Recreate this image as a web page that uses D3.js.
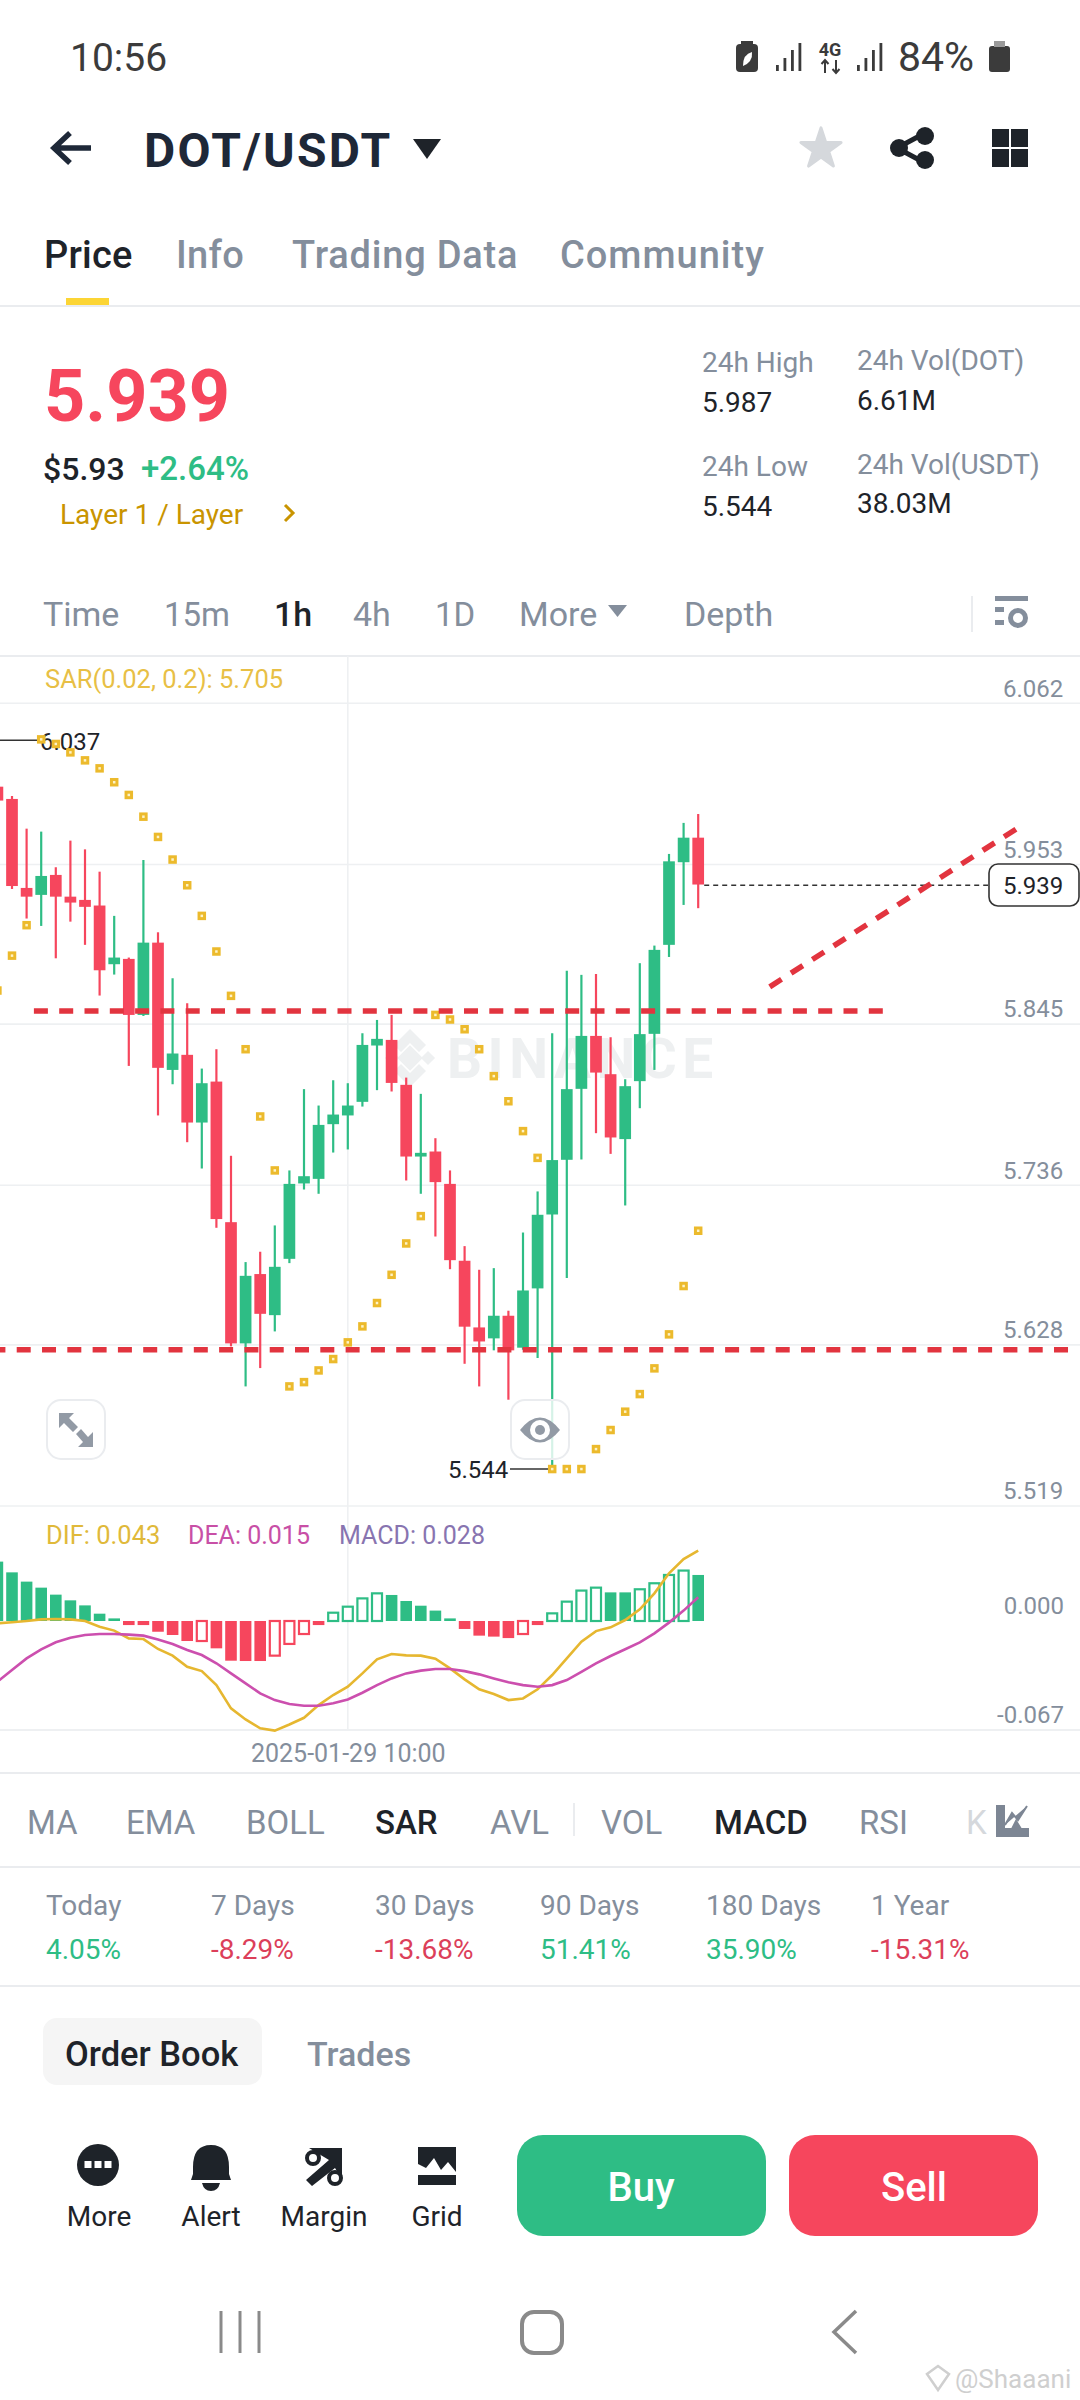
<!DOCTYPE html>
<html>
<head>
<meta charset="utf-8">
<title>DOT/USDT</title>
<script src="https://cdnjs.cloudflare.com/ajax/libs/d3/7.8.5/d3.min.js"></script>
<style>
  html, body { margin: 0; padding: 0; background: #fff; }
  svg { display: block; font-family: Roboto, "Noto Sans", sans-serif; }
</style>
</head>
<body>
<svg id="chart" width="1080" height="2400" viewBox="0 0 1080 2400"></svg>
<script>
// 1h candles, oldest first (the first one is cut by the left edge)
var candleOpen = [6.0056,5.9973,5.9371,5.9324,5.9459,5.9312,5.9290,5.9252,5.8855,5.8891,5.8512,5.9001,5.8140,5.8242,5.7784,5.8061,5.7110,5.6290,5.6759,5.6481,5.6862,5.7372,5.7403,5.7773,5.7832,5.7924,5.8305,5.8343,5.8039,5.7554,5.7588,5.7369,5.6849,5.6398,5.6324,5.6477,5.6261,5.6662,5.7162,5.7532,5.8012,5.8370,5.8111,5.7672,5.8064,5.8384,5.8986,5.9545,5.9711];
var candleClose = [5.9962,5.9384,5.9312,5.9452,5.9312,5.9272,5.9243,5.8814,5.8900,5.8512,5.9001,5.8154,5.8251,5.7784,5.8050,5.7131,5.6290,5.6747,5.6490,5.6808,5.7369,5.7421,5.7768,5.7838,5.7899,5.8309,5.8350,5.8052,5.7554,5.7579,5.7381,5.6853,5.6403,5.6303,5.6477,5.6243,5.6648,5.7160,5.7530,5.8010,5.8370,5.8122,5.7683,5.8030,5.8382,5.8952,5.9551,5.9711,5.9394];
var candleHigh = [6.0060,5.9993,5.9772,5.9752,5.9511,5.9691,5.9632,5.9481,5.9182,5.8900,5.9560,5.9071,5.8760,5.8591,5.8149,5.8280,5.7559,5.6840,5.6910,5.7088,5.7460,5.8010,5.7899,5.8070,5.8050,5.8388,5.8478,5.8512,5.8088,5.7978,5.7678,5.7460,5.6948,5.6788,5.6799,5.6511,5.7040,5.7318,5.8388,5.8810,5.8783,5.8789,5.8361,5.8077,5.8862,5.8981,5.9601,5.9811,5.9871];
var candleLow = [5.9955,5.9364,5.9164,5.9114,5.8895,5.9143,5.8986,5.8643,5.8785,5.8167,5.8505,5.7832,5.8043,5.7651,5.7473,5.7072,5.6270,5.5999,5.6123,5.6371,5.6833,5.7331,5.7302,5.7581,5.7602,5.7892,5.8003,5.7994,5.7392,5.7302,5.7013,5.6792,5.6152,5.5999,5.6243,5.5909,5.6247,5.6191,5.5440,5.6732,5.7534,5.7712,5.7572,5.7223,5.7881,5.8140,5.8904,5.9256,5.9234];
var sarValues = [5.8677,5.8913,5.9119,6.0376,6.0345,6.0288,6.0234,6.0180,6.0086,6.0000,5.9853,5.9716,5.9563,5.9389,5.9182,5.8941,5.8641,5.8280,5.7825,5.7460,5.5999,5.6028,5.6107,5.6184,5.6297,5.6405,5.6563,5.6754,5.6966,5.7151,5.8512,5.8481,5.8415,5.8280,5.8098,5.7928,5.7726,5.7545,5.5440,5.5440,5.5440,5.5575,5.5704,5.5828,5.5947,5.6121,5.6351,5.6678,5.7052];

var macdValues = [.0365,.0299,.0242,.0205,.0162,.0127,.0096,.0045,.0016,-.0025,-.0025,-.0066,-.0086,-.0123,-.0123,-.0168,-.0244,-.0246,-.0246,-.0213,-.0141,-.0080,-.0025,.0051,.0088,.0139,.0170,.0160,.0123,.0094,.0064,.0016,-.0049,-.0090,-.0096,-.0105,-.0080,-.0025,.0047,.0119,.0187,.0205,.0176,.0176,.0195,.0232,.0283,.0310,.0283];
var macdHollow = [0,0,0,0,0,0,0,0,0,0,0,0,0,0,1,0,0,0,0,1,1,1,0,1,1,1,1,0,0,0,0,0,0,0,0,0,1,0,1,1,1,1,0,0,1,1,1,1,0];
var difValues = [-.0014,-.0008,0,.0010,.0012,.0010,0,-.0035,-.0059,-.0107,-.0111,-.0172,-.0213,-.0281,-.0308,-.0394,-.0537,-.0605,-.0660,-.0674,-.0636,-.0595,-.0517,-.0455,-.0404,-.0322,-.0236,-.0203,-.0211,-.0213,-.0232,-.0291,-.0359,-.0420,-.0449,-.0486,-.0476,-.0420,-.0332,-.0230,-.0127,-.0062,-.0039,.0006,.0072,.0170,.0293,.0381,.0433];
var deaValues = [-.0373,-.0301,-.0230,-.0174,-.0131,-.0103,-.0086,-.0080,-.0080,-.0084,-.0090,-.0113,-.0141,-.0178,-.0209,-.0260,-.0322,-.0383,-.0445,-.0486,-.0510,-.0521,-.0521,-.0506,-.0482,-.0441,-.0394,-.0353,-.0322,-.0305,-.0295,-.0295,-.0308,-.0328,-.0353,-.0377,-.0394,-.0404,-.0394,-.0363,-.0312,-.0260,-.0215,-.0174,-.0131,-.0076,-.0010,.0064,.0146];

var priceTicks = [6.062, 5.953, 5.845, 5.736, 5.628, 5.519];
var macdTicks = [0, -0.067];
var timeTickIndex = [24];
var timeTickLabels = ["2025-01-29 10:00"];

// hand drawn lines on the screenshot, [candle index, price]
var resistanceLine = [[2.5, 5.8539], [60.7, 5.8539]];
var supportLine = [[-0.41, 5.6247], [74, 5.6247]];
var trendLine = [[52.9, 5.8702], [69.9, 5.9777]];

var lastPrice = 5.939;
var highMark = {index: 3, price: 6.037, label: "6.037"};
var lowMark = {index: 38, price: 5.544, label: "5.544"};

var GREEN = "#2ebd85", RED = "#f6465d", DARK = "#1e2329", GREY = "#848e9c", LINE = "#eaecef";

var svg = d3.select("#chart");
svg.append("rect").attr("width", 1080).attr("height", 2400).attr("fill", "#fff");

var x = d3.scaleLinear().domain([0, 48]).range([-2.6, 698.2]);
var yPrice = d3.scaleLinear().domain([5.519, 6.062]).range([1506, 703.3]);
var yMacd = d3.scaleLinear().domain([-0.067, 0]).range([1730, 1621]);
var indexes = d3.range(candleOpen.length);

function label(txt, px, py, size, color, weight, anchor) {
    return svg.append("text").attr("x", px).attr("y", py)
        .attr("font-size", size).attr("fill", color)
        .attr("font-weight", weight || 400)
        .attr("text-anchor", anchor || "start")
        .text(txt);
}
function hline(py, color, x1, x2) {
    svg.append("line").attr("x1", x1 || 0).attr("x2", x2 || 1080)
        .attr("y1", py).attr("y2", py).attr("stroke", color || LINE).attr("stroke-width", 2);
}

// ---- header ----
label("10:56", 70, 71, 39, "#3b3b3b");
label("84%", 898, 71, 41, "#3b3b3b");
// battery saver, signal bars, 4G
svg.append("rect").attr("x", 736).attr("y", 44).attr("width", 22).attr("height", 28).attr("rx", 4).attr("fill", "#3b3b3b");
svg.append("rect").attr("x", 741).attr("y", 41).attr("width", 12).attr("height", 4).attr("fill", "#3b3b3b");
svg.append("path").attr("d", "M743 66 q0 -12 9 -14 q1 10 -9 14").attr("fill", "#fff");
function signal(x0) {
    [6, 13, 21, 28].forEach(function(h, i) {
        svg.append("rect").attr("x", x0 + i * 7.5).attr("y", 71 - h).attr("width", 2.8).attr("height", h).attr("fill", "#3b3b3b");
    });
}
signal(776);
signal(857);
label("4G", 830, 56, 18, "#3b3b3b", 700, "middle");
svg.append("path").attr("d", "M825 73 v-13 m-3.5 4 l3.5 -4 l3.5 4 M836 60 v13 m-3.5 -4 l3.5 4 l3.5 -4")
    .attr("stroke", "#3b3b3b").attr("stroke-width", 2).attr("fill", "none");
svg.append("rect").attr("x", 989).attr("y", 46).attr("width", 21).attr("height", 26).attr("rx", 3).attr("fill", "#3b3b3b");
svg.append("rect").attr("x", 994).attr("y", 41).attr("width", 11).attr("height", 6).attr("fill", "#9a9a9a");

svg.append("path").attr("d", "M91 148 H55 M70 133 L54 148 L70 163").attr("stroke", "#1e2838").attr("stroke-width", 5.5).attr("fill", "none");
label("DOT/USDT", 144, 167, 48, "#1e2838", 700).attr("letter-spacing", 2.2);
svg.append("path").attr("d", "M413 139 H441 L427 159 Z").attr("fill", DARK);
svg.append("path").attr("d", d3.symbol().type(d3.symbolStar).size(500)()).attr("transform", "translate(821,149)").attr("fill", "#d5d8dc").attr("stroke", "#d5d8dc").attr("stroke-width", 3).attr("stroke-linejoin", "round");
svg.append("path").attr("d", "M925 133 L897 148 L925 163").attr("stroke", DARK).attr("stroke-width", 5).attr("fill", "none");
[[925, 136], [899, 148], [925, 160]].forEach(function(p) {
    svg.append("circle").attr("cx", p[0]).attr("cy", p[1]).attr("r", 9).attr("fill", DARK);
});
[[992, 129], [1011, 129], [992, 149], [1011, 149]].forEach(function(p) {
    svg.append("rect").attr("x", p[0]).attr("y", p[1]).attr("width", 17).attr("height", 18).attr("fill", DARK);
});

label("Price", 44, 268, 38, DARK, 500).attr("letter-spacing", 0.2);
label("Info", 176, 268, 38, GREY, 500).attr("letter-spacing", 0.3);
label("Trading Data", 292, 268, 38, GREY, 500).attr("letter-spacing", 0.8);
label("Community", 560, 268, 38, GREY, 500).attr("letter-spacing", 1);
svg.append("rect").attr("x", 66).attr("y", 298).attr("width", 43).attr("height", 8).attr("fill", "#fcd535");
hline(306);

label("5.939", 44, 421, 72, RED, 700);
label("$5.93", 43, 480, 32, DARK, 500);
label("+2.64%", 141, 480, 33, GREEN, 500);
label("Layer 1 / Layer", 60, 524, 28, "#c99400");
svg.append("path").attr("d", "M285 505 L293 513 L285 521").attr("stroke", "#c99400").attr("stroke-width", 3).attr("fill", "none");

label("24h High", 702, 372, 28, GREY);
label("5.987", 702, 412, 28, DARK);
label("24h Vol(DOT)", 857, 370, 28, GREY);
label("6.61M", 857, 410, 28, DARK);
label("24h Low", 702, 476, 28, GREY);
label("5.544", 702, 516, 28, DARK);
label("24h Vol(USDT)", 857, 474, 28, GREY);
label("38.03M", 857, 513, 28, DARK);

label("Time", 43, 626, 34, GREY);
label("15m", 164, 626, 33, GREY);
label("1h", 274, 626, 34, DARK, 500);
label("4h", 353, 626, 34, GREY);
label("1D", 435, 626, 33, GREY);
label("More", 519, 626, 34, GREY);
svg.append("path").attr("d", "M608 605 H627 L617.5 617 Z").attr("fill", GREY);
label("Depth", 684, 626, 34, GREY);
svg.append("line").attr("x1", 972).attr("x2", 972).attr("y1", 596).attr("y2", 632).attr("stroke", LINE).attr("stroke-width", 2);
svg.append("rect").attr("x", 995).attr("y", 596).attr("width", 33).attr("height", 5).attr("fill", GREY);
svg.append("rect").attr("x", 995).attr("y", 607).attr("width", 9).attr("height", 5).attr("fill", GREY);
svg.append("rect").attr("x", 995).attr("y", 620).attr("width", 9).attr("height", 5).attr("fill", GREY);
svg.append("circle").attr("cx", 1018).attr("cy", 618).attr("r", 7.5).attr("fill", "none").attr("stroke", GREY).attr("stroke-width", 5);

// ---- chart grid ----
hline(656);
svg.append("g").selectAll("line").data(priceTicks).join("line")
    .attr("x1", 0).attr("x2", 1080)
    .attr("y1", function(d) { return yPrice(d); })
    .attr("y2", function(d) { return yPrice(d); })
    .attr("stroke", "#eef0f2").attr("stroke-width", 1.6);
hline(yMacd(-0.067), "#eef0f2");
svg.append("g").selectAll("line").data(timeTickIndex).join("line")
    .attr("x1", function(d) { return x(d); }).attr("x2", function(d) { return x(d); })
    .attr("y1", 656).attr("y2", yMacd(-0.067))
    .attr("stroke", "#eef0f2").attr("stroke-width", 1.6);

// watermark
var wm = svg.append("g").attr("fill", "#eef0f1");
[[410, 1058, 9], [392, 1058, 5], [428, 1058, 5]].forEach(function(p) {
    wm.append("rect").attr("x", p[0] - p[2]).attr("y", p[1] - p[2]).attr("width", p[2] * 2).attr("height", p[2] * 2)
        .attr("transform", "rotate(45 " + p[0] + " " + p[1] + ")");
});
wm.append("path").attr("d", "M394 1045 L410 1029 L426 1045 L419 1052 L410 1043 L401 1052 Z M394 1071 L401 1064 L410 1073 L419 1064 L426 1071 L410 1087 Z");
wm.append("text").attr("x", 447).attr("y", 1078).attr("font-size", 55).attr("font-weight", 700).attr("letter-spacing", 5.5).text("BINANCE");

// ---- axes ----
// plain hyphen for negatives, d3.format would give a long minus
function fmt3(d) { return d.toFixed(3); }
var priceAxis = svg.append("g").attr("transform", "translate(1003,0)")
    .call(d3.axisRight(yPrice).tickValues(priceTicks).tickSize(0).tickPadding(0).tickFormat(fmt3));
var macdAxis = svg.append("g").attr("transform", "translate(1064,0)")
    .call(d3.axisRight(yMacd).tickValues(macdTicks).tickSize(0).tickPadding(0).tickFormat(fmt3));
var timeAxis = svg.append("g").attr("transform", "translate(0,1730)")
    .call(d3.axisBottom(x).tickValues(timeTickIndex).tickSize(0).tickPadding(0)
        .tickFormat(function(d, i) { return timeTickLabels[i]; }));
[priceAxis, macdAxis, timeAxis].forEach(function(a) {
    a.select(".domain").remove();
    a.selectAll("text").attr("font-family", "Roboto").attr("font-size", 24).attr("fill", GREY);
});
priceAxis.selectAll("text").attr("dy", "-0.3em");
macdAxis.selectAll("text").attr("dy", "-0.3em").attr("text-anchor", "end");
timeAxis.selectAll("text").attr("font-size", 25).attr("y", 14);

label("SAR(0.02, 0.2): 5.705", 45, 688, 25.5, "#e8bf45");

// ---- candles ----
function candleColor(i) { return candleClose[i] >= candleOpen[i] ? GREEN : RED; }
var candles = svg.append("g").selectAll("g").data(indexes).join("g");
candles.append("line")
    .attr("x1", function(i) { return x(i); }).attr("x2", function(i) { return x(i); })
    .attr("y1", function(i) { return yPrice(candleHigh[i]); })
    .attr("y2", function(i) { return yPrice(candleLow[i]); })
    .attr("stroke", candleColor).attr("stroke-width", 2.2);
candles.append("rect")
    .attr("x", function(i) { return x(i) - 5.85; }).attr("width", 11.7)
    .attr("y", function(i) { return yPrice(Math.max(candleOpen[i], candleClose[i])); })
    .attr("height", function(i) { return Math.max(2, Math.abs(yPrice(candleOpen[i]) - yPrice(candleClose[i]))); })
    .attr("fill", candleColor);

// high / low marks
svg.append("line").attr("x1", 0).attr("x2", x(highMark.index)).attr("y1", yPrice(highMark.price)).attr("y2", yPrice(highMark.price)).attr("stroke", "#333").attr("stroke-width", 1.4);
label(highMark.label, 40, yPrice(highMark.price) + 10, 24, DARK);
svg.append("line").attr("x1", 510).attr("x2", x(lowMark.index)).attr("y1", yPrice(lowMark.price)).attr("y2", yPrice(lowMark.price)).attr("stroke", "#333").attr("stroke-width", 1.4);
label(lowMark.label, 448, yPrice(lowMark.price) + 9, 24, DARK);

// SAR dots
svg.append("g").selectAll("rect").data(indexes).join("rect")
    .attr("x", function(i) { return x(i) - 2.75; })
    .attr("y", function(i) { return yPrice(sarValues[i]) - 2.75; })
    .attr("width", 5.5).attr("height", 5.5)
    .attr("fill", "#fdf3c8").attr("stroke", "#ecba2c").attr("stroke-width", 3);

// last price
var lastY = yPrice(lastPrice);
svg.append("line").attr("x1", x(48) + 6).attr("x2", 988).attr("y1", lastY).attr("y2", lastY)
    .attr("stroke", "#333").attr("stroke-width", 1.5).attr("stroke-dasharray", "5 4");
svg.append("rect").attr("x", 989).attr("y", 864).attr("width", 90).attr("height", 42).attr("rx", 9)
    .attr("fill", "#fff").attr("stroke", "#333").attr("stroke-width", 1.6);
label("5.939", 1003, 894, 24, DARK);

// buttons on the chart
function chartButton(x0) {
    svg.append("rect").attr("x", x0).attr("y", 1400).attr("width", 58).attr("height", 59).attr("rx", 14)
        .attr("fill", "#fff").attr("fill-opacity", 0.8).attr("stroke", "#eaecef").attr("stroke-width", 2);
}
chartButton(47);
chartButton(511);
svg.append("path").attr("d", "M59 1413 H74 L69 1418 L78 1427 L73 1432 L64 1423 L59 1428 Z M93 1447 H78 L83 1442 L76 1434 L81 1429 L88 1437 L93 1432 Z").attr("fill", "#929aa5");
svg.append("path").attr("d", "M520 1430 Q540 1405 560 1430 Q540 1455 520 1430 Z").attr("fill", "#929aa5");
svg.append("circle").attr("cx", 540).attr("cy", 1430).attr("r", 10).attr("fill", "#fff");
svg.append("circle").attr("cx", 540).attr("cy", 1430).attr("r", 5).attr("fill", "#929aa5");

// ---- MACD ----
label("DIF: 0.043", 46, 1544, 25.5, "#e0b93a");
label("DEA: 0.015", 188, 1544, 25, "#c84fa6");
label("MACD: 0.028", 339, 1544, 25, "#8874b0");

function macdColor(i) { return macdValues[i] >= 0 ? GREEN : RED; }
svg.append("g").selectAll("rect").data(indexes).join("rect")
    .attr("x", function(i) { return x(i) - (macdHollow[i] ? 5 : 5.8); })
    .attr("width", function(i) { return macdHollow[i] ? 10 : 11.6; })
    .attr("y", function(i) { return Math.min(yMacd(0), yMacd(macdValues[i])); })
    .attr("height", function(i) { return Math.abs(yMacd(0) - yMacd(macdValues[i])); })
    .attr("fill", function(i) { return macdHollow[i] ? "#fff" : macdColor(i); })
    .attr("stroke", function(i) { return macdHollow[i] ? macdColor(i) : "none"; })
    .attr("stroke-width", 2.2);

var macdLine = d3.line().x(function(d, i) { return x(i); }).y(function(d) { return yMacd(d); });
svg.append("path").attr("d", macdLine(difValues)).attr("fill", "none").attr("stroke", "#e6b730").attr("stroke-width", 2.6);
svg.append("path").attr("d", macdLine(deaValues)).attr("fill", "none").attr("stroke", "#cc4fae").attr("stroke-width", 2.6);

// ---- drawn support / resistance ----
var drawn = d3.line().x(function(d) { return x(d[0]); }).y(function(d) { return yPrice(d[1]); });
[resistanceLine, supportLine, trendLine].forEach(function(pts) {
    svg.append("path").attr("d", drawn(pts)).attr("fill", "none")
        .attr("stroke", "#e2343f").attr("stroke-width", 5.5).attr("stroke-dasharray", "14 11.3");
});

// ---- indicator tabs ----
hline(1773);
[["MA", 27, 0], ["EMA", 126, 0], ["BOLL", 246, 0], ["SAR", 375, 1], ["AVL", 490, 0], ["VOL", 601, 0], ["MACD", 714, 1], ["RSI", 859, 0]].forEach(function(t) {
    label(t[0], t[1], 1834, 33, t[2] ? DARK : GREY, t[2] ? 500 : 400);
});
label("K", 966, 1834, 33, "#d5d8dc");
svg.append("line").attr("x1", 574).attr("x2", 574).attr("y1", 1803).attr("y2", 1836).attr("stroke", LINE).attr("stroke-width", 2);
svg.append("path").attr("d", "M997 1806 V1836 H1028 V1829 H1004 V1806 Z M1005 1825 L1012 1813 L1018 1820 L1027 1806 M1012 1829 L1016 1821 L1021 1829 Z")
    .attr("fill", "#7d8694").attr("stroke", "#7d8694").attr("stroke-width", 2);
hline(1867);

// ---- period returns ----
var periodLabels = ["Today", "7 Days", "30 Days", "90 Days", "180 Days", "1 Year"];
var periodValues = ["4.05%", "-8.29%", "-13.68%", "51.41%", "35.90%", "-15.31%"];
var periodX = [46, 211, 375, 540, 706, 871];
periodLabels.forEach(function(t, i) {
    label(t, periodX[i], 1915, 28, GREY);
    label(periodValues[i], periodX[i], 1959, 28, periodValues[i][0] == "-" ? "#dc3f5a" : GREEN);
});
hline(1986);

// ---- order book / buttons ----
svg.append("rect").attr("x", 43).attr("y", 2018).attr("width", 219).attr("height", 67).attr("rx", 14).attr("fill", "#f5f5f5");
label("Order Book", 65, 2066, 34.5, DARK, 500);
label("Trades", 307, 2066, 34, GREY, 500);

svg.append("circle").attr("cx", 98).attr("cy", 2165).attr("r", 21).attr("fill", DARK);
[88, 98, 108].forEach(function(px) {
    svg.append("rect").attr("x", px - 3.5).attr("y", 2161).attr("width", 7).attr("height", 7).attr("fill", "#fff");
});
svg.append("path").attr("d", "M211 2145 Q229 2145 229 2167 V2174 L231 2180 H191 L193 2174 V2167 Q193 2145 211 2145 Z M202 2183 H220 Q218 2191 211 2191 Q204 2191 202 2183 Z").attr("fill", DARK);
svg.append("path").attr("d", "M309 2148 H342 V2180 L335 2168 L312 2186 L306 2180 L329 2160 Z").attr("fill", DARK);
svg.append("circle").attr("cx", 313).attr("cy", 2158).attr("r", 6).attr("fill", "#fff").attr("stroke", DARK).attr("stroke-width", 4);
svg.append("circle").attr("cx", 335).attr("cy", 2178).attr("r", 6).attr("fill", "#fff").attr("stroke", DARK).attr("stroke-width", 4);
svg.append("path").attr("d", "M418 2147 H456 V2172 L448 2162 L441 2170 L434 2158 L426 2168 L418 2164 Z M418 2175 H456 V2185 H418 Z").attr("fill", DARK);

[["More", 99], ["Alert", 211], ["Margin", 324], ["Grid", 437]].forEach(function(t) {
    label(t[0], t[1], 2226, 28, DARK, 400, "middle");
});
svg.append("rect").attr("x", 517).attr("y", 2135).attr("width", 249).attr("height", 101).attr("rx", 26).attr("fill", GREEN);
svg.append("rect").attr("x", 789).attr("y", 2135).attr("width", 249).attr("height", 101).attr("rx", 26).attr("fill", RED);
label("Buy", 641, 2201, 40, "#fff", 500, "middle");
label("Sell", 914, 2201, 40, "#fff", 500, "middle");

// ---- android nav bar ----
[221, 240, 259].forEach(function(px) {
    svg.append("line").attr("x1", px).attr("x2", px).attr("y1", 2311).attr("y2", 2353).attr("stroke", "#8a8a8a").attr("stroke-width", 3);
});
svg.append("rect").attr("x", 522).attr("y", 2312).attr("width", 40).attr("height", 41).attr("rx", 12).attr("fill", "none").attr("stroke", "#8a8a8a").attr("stroke-width", 4);
svg.append("path").attr("d", "M856 2311 L834 2332 L856 2353").attr("fill", "none").attr("stroke", "#8a8a8a").attr("stroke-width", 3.5);

label("@Shaaani", 955, 2388, 26, "#cfcfcf");
svg.append("path").attr("d", "M927 2374 L938 2366 L949 2374 L938 2390 Z").attr("fill", "none").attr("stroke", "#cfcfcf").attr("stroke-width", 2.5);
</script>
</body>
</html>
